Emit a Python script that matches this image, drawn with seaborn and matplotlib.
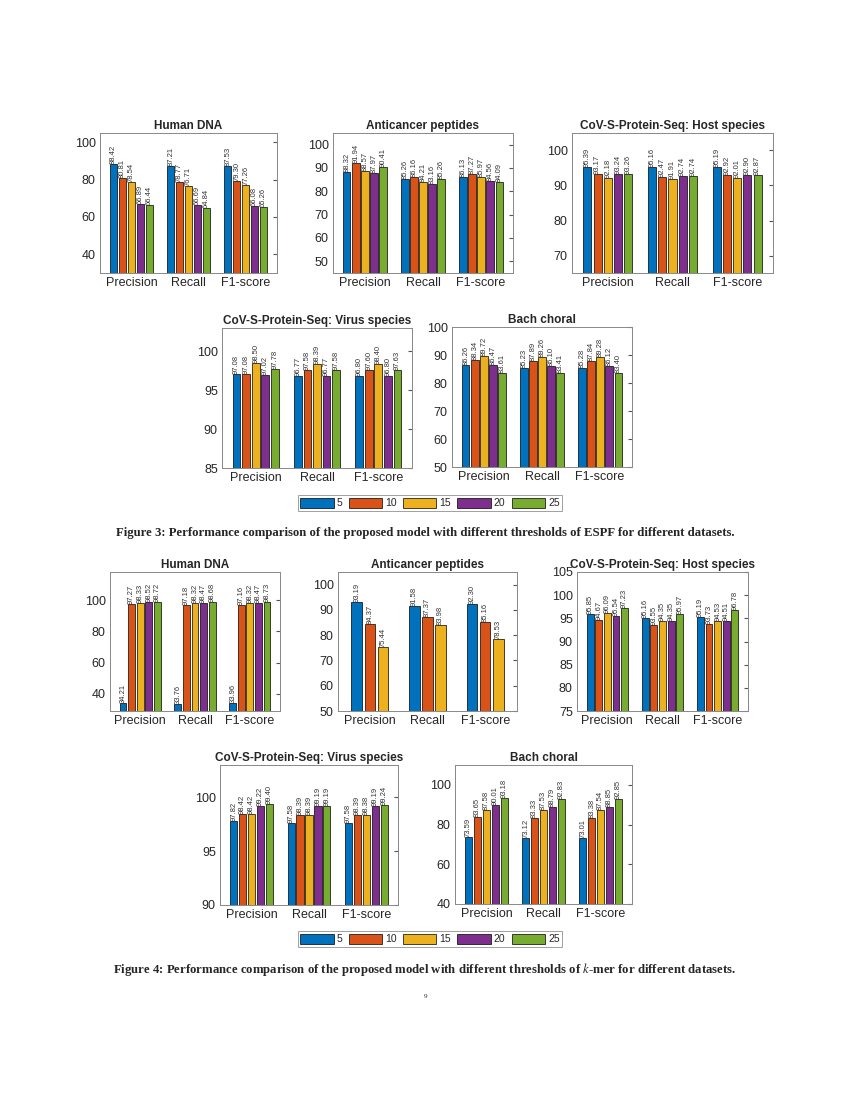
import pandas as pd
import numpy as np
import matplotlib
matplotlib.use('Agg')
import matplotlib.pyplot as plt
import matplotlib.patches as mpatches
import seaborn as sns

sns.set_style('white')
plt.rcParams['font.family'] = ['Liberation Sans', 'DejaVu Sans']
plt.rcParams['mathtext.fontset'] = 'stix'

thresholds = ['5', '10', '15', '20', '25']
metrics = ['Precision', 'Recall', 'F1-score']
colors = ['#0072BD', '#D95319', '#EDB120', '#7E2F8E', '#77AC30']

# Figure 3 (ESPF thresholds): rows = Precision, Recall, F1-score; cols = thresholds
espf_human_dna = [[88.42, 80.81, 78.54, 66.89, 66.44],
                  [87.21, 78.77, 76.71, 66.69, 64.84],
                  [87.53, 79.30, 77.26, 66.08, 65.26]]
espf_anticancer = [[88.32, 91.94, 88.57, 87.97, 90.41],
                   [85.26, 86.16, 84.21, 83.16, 85.26],
                   [86.13, 87.27, 85.97, 84.56, 84.09]]
espf_host = [[95.39, 93.17, 92.18, 93.24, 93.26],
             [95.16, 92.47, 91.91, 92.74, 92.74],
             [95.19, 92.92, 92.01, 92.90, 92.87]]
espf_virus = [[97.08, 97.08, 98.50, 97.02, 97.78],
              [96.77, 97.58, 98.39, 96.77, 97.58],
              [96.80, 97.60, 98.40, 96.80, 97.63]]
espf_bach = [[86.26, 88.34, 89.72, 86.47, 83.61],
             [85.23, 87.89, 89.26, 86.10, 83.41],
             [85.28, 87.84, 89.28, 86.12, 83.40]]

# Figure 4 (k-mer thresholds)
kmer_human_dna = [[34.21, 97.27, 98.33, 98.52, 98.72],
                  [33.76, 97.18, 98.32, 98.47, 98.68],
                  [33.96, 97.16, 98.32, 98.47, 98.73]]
kmer_anticancer = [[93.19, 84.37, 75.44],
                   [91.58, 87.37, 83.98],
                   [92.30, 85.16, 78.53]]
kmer_host = [[95.85, 94.67, 96.09, 95.54, 97.23],
             [95.16, 93.55, 94.35, 94.35, 95.97],
             [95.19, 93.73, 94.53, 94.51, 96.78]]
kmer_virus = [[97.82, 98.42, 98.42, 99.22, 99.40],
              [97.58, 98.39, 98.39, 99.19, 99.19],
              [97.58, 98.39, 98.38, 99.19, 99.24]]
kmer_bach = [[73.59, 83.65, 87.58, 90.01, 93.18],
             [73.12, 83.33, 87.53, 88.79, 92.83],
             [73.01, 83.38, 87.54, 88.85, 92.85]]

W, H = 850, 1100
fig = plt.figure(figsize=(8.5, 11), dpi=100)
fig.patch.set_facecolor('white')


def px(l, t, r, b):
    return [l / W, 1 - b / H, (r - l) / W, (b - t) / H]


def panel(box, vals, title, ylim, yticks, width=0.78):
    ax = fig.add_axes(px(*box))
    n = len(vals[0])
    rows = []
    for m, row in zip(metrics, vals):
        for t, v in zip(thresholds[:n], row):
            rows.append({'metric': m, 'threshold': t, 'value': v})
    df = pd.DataFrame(rows)
    sns.barplot(data=df, x='metric', y='value', hue='threshold',
                hue_order=thresholds[:n], palette=colors[:n], order=metrics,
                width=width, gap=0.2, saturation=1, edgecolor='black', linewidth=0.5,
                legend=False, ax=ax)
    for c in ax.containers:
        ax.bar_label(c, fmt='%.2f', rotation=90, fontsize=5.5, padding=0,
                     color='#333333')
    ax.set_ylim(*ylim)
    ax.set_yticks(yticks)
    ax.set_xlim(-0.55, 2.55)
    ax.set_xlabel('')
    ax.set_ylabel('')
    ax.set_title(title, fontsize=8.5, fontweight='bold', pad=3)
    ax.tick_params(axis='y', direction='in', right=True, length=3,
                   labelsize=9, color='#555555', labelcolor='#262626', pad=3)
    ax.tick_params(axis='x', length=0, labelsize=9, labelcolor='#262626', pad=3)
    for s in ax.spines.values():
        s.set_color('#888888')
        s.set_linewidth(0.7)
    return ax


# Figure 3
panel((100, 133, 277, 273), espf_human_dna, 'Human DNA', (30, 105), [40, 60, 80, 100])
panel((333, 133, 513, 273), espf_anticancer, 'Anticancer peptides', (45, 105),
      [50, 60, 70, 80, 90, 100])
panel((572, 133, 773, 273), espf_host, 'CoV-S-Protein-Seq: Host species', (65, 105),
      [70, 80, 90, 100])
panel((222, 328, 412, 468), espf_virus, 'CoV-S-Protein-Seq: Virus species', (85, 103),
      [85, 90, 95, 100])
panel((452, 327, 632, 467), espf_bach, 'Bach choral', (50, 100),
      [50, 60, 70, 80, 90, 100])

# Figure 4
panel((110, 572, 280, 711), kmer_human_dna, 'Human DNA', (29, 118), [40, 60, 80, 100])
panel((338, 572, 517, 711), kmer_anticancer, 'Anticancer peptides', (50, 105),
      [50, 60, 70, 80, 90, 100], width=0.68)
panel((577, 572, 748, 711), kmer_host, 'CoV-S-Protein-Seq: Host species', (75, 105),
      [75, 80, 85, 90, 95, 100, 105])
panel((220, 765, 398, 905), kmer_virus, 'CoV-S-Protein-Seq: Virus species', (90, 103),
      [90, 95, 100])
panel((455, 765, 632, 904), kmer_bach, 'Bach choral', (40, 110), [40, 60, 80, 100])

handles = [mpatches.Patch(facecolor=c, edgecolor='black', linewidth=0.5, label=t)
           for c, t in zip(colors, thresholds)]


def add_legend(cy):
    leg = fig.legend(handles=handles, loc='center', bbox_to_anchor=(430 / W, 1 - cy / H),
                     ncol=5, fontsize=7.5, frameon=True, fancybox=False,
                     handlelength=3.2, handleheight=1.2, handletextpad=0.3,
                     columnspacing=0.6, borderpad=0.25)
    leg.get_frame().set_edgecolor('#888888')
    leg.get_frame().set_linewidth(0.7)


add_legend(503)
add_legend(939)

fig.text(425 / W, 1 - 533 / H,
         'Figure 3: Performance comparison of the proposed model with different '
         'thresholds of ESPF for different datasets.',
         ha='center', va='center', fontsize=9.2, fontweight='bold',
         family=['Liberation Serif', 'DejaVu Serif'])
fig.text(425 / W, 1 - 970 / H,
         'Figure 4: Performance comparison of the proposed model with different '
         'thresholds of $k$-mer for different datasets.',
         ha='center', va='center', fontsize=9.2, fontweight='bold',
         family=['Liberation Serif', 'DejaVu Serif'])
fig.text(425 / W, 1 - 996 / H, '9', ha='center', va='center', fontsize=5,
         family=['Liberation Serif'])

fig.savefig('out.png', dpi=100, facecolor='white')
